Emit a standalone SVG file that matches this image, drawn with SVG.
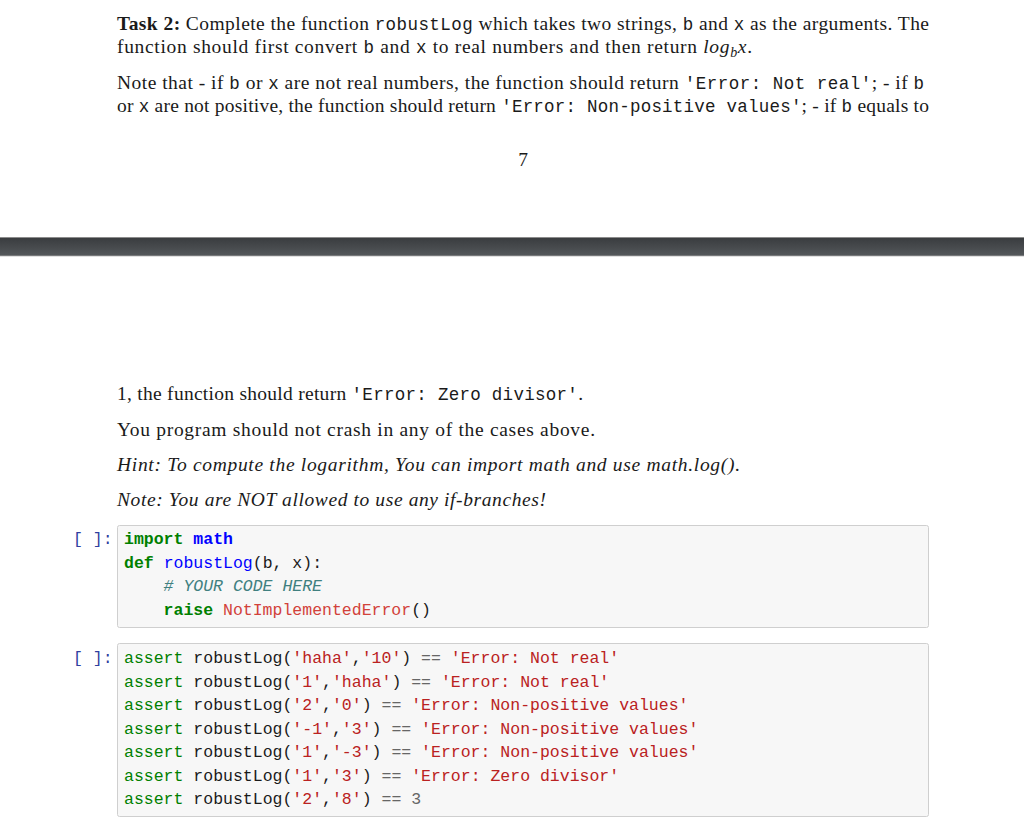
<svg xmlns="http://www.w3.org/2000/svg" width="1024" height="825" viewBox="0 0 1024 825">
<style>
.rm{font-family:"Liberation Serif","Times New Roman",serif;font-size:19.5px;fill:#1a1a1a}
.it{font-style:italic}
.tt{font-family:"Liberation Mono","DejaVu Sans Mono",monospace;font-size:17.5px}
.code{font-family:"Liberation Mono","DejaVu Sans Mono",monospace;font-size:16.5px;fill:#1a1a1a;white-space:pre}
.prompt{font-family:"Liberation Mono","DejaVu Sans Mono",monospace;font-size:16.5px;fill:#303F9F;white-space:pre}
.kw{fill:#008000;font-weight:bold}
.kw2{fill:#008000}
.nm{fill:#0000FF}
.nb{fill:#0000FF;font-weight:bold}
.cm{fill:#408080;font-style:italic}
.ex{fill:#D2413A}
.st{fill:#BA2121}
.op{fill:#666666}
.cell{fill:#f7f7f7;stroke:#cfcfcf;stroke-width:1}
</style>
<defs>
<linearGradient id="bar" x1="0" y1="0" x2="0" y2="1">
<stop offset="0" stop-color="#383b3e"/>
<stop offset="0.5" stop-color="#46494c"/>
<stop offset="1" stop-color="#54585b"/>
</linearGradient>
</defs>
<rect x="0" y="0" width="1024" height="825" fill="#ffffff"/>

<g id="page-top">
<text class="rm" x="117" y="30" textLength="812" lengthAdjust="spacing"><tspan font-weight="bold">Task 2:</tspan> Complete the function <tspan class="tt">robustLog</tspan> which takes two strings, <tspan class="tt">b</tspan> and <tspan class="tt">x</tspan> as the arguments. The</text>
<text class="rm" x="117" y="53" textLength="635" lengthAdjust="spacing">function should first convert <tspan class="tt">b</tspan> and <tspan class="tt">x</tspan> to real numbers and then return <tspan class="it">log</tspan><tspan class="it" font-size="14px" dy="4">b</tspan><tspan class="it" dy="-4">x</tspan>.</text>
<text class="rm" x="117" y="89" textLength="807" lengthAdjust="spacing">Note that - if <tspan class="tt">b</tspan> or <tspan class="tt">x</tspan> are not real numbers, the function should return <tspan class="tt">'Error: Not real'</tspan>; - if <tspan class="tt">b</tspan></text>
<text class="rm" x="117" y="112" textLength="812" lengthAdjust="spacing">or <tspan class="tt">x</tspan> are not positive, the function should return <tspan class="tt">'Error: Non-positive values'</tspan>; - if <tspan class="tt">b</tspan> equals to</text>
<text class="rm" x="523" y="166" text-anchor="middle">7</text>
</g>

<g id="page-break">
<rect x="0" y="237" width="1024" height="19" fill="url(#bar)"/>
<rect x="0" y="237" width="1024" height="1" fill="#8c8c8c"/>
<rect x="0" y="255.5" width="1024" height="0.8" fill="#9a9a9a"/>
</g>

<g id="page-bottom">
<text class="rm" x="117" y="400" textLength="466" lengthAdjust="spacing">1, the function should return <tspan class="tt">'Error: Zero divisor'</tspan>.</text>
<text class="rm" x="117" y="436" textLength="478" lengthAdjust="spacing">You program should not crash in any of the cases above.</text>
<text class="rm it" x="117" y="471" textLength="623" lengthAdjust="spacing">Hint: To compute the logarithm, You can import math and use math.log().</text>
<text class="rm it" x="117" y="506" textLength="429" lengthAdjust="spacing">Note: You are NOT allowed to use any if-branches!</text>
</g>

<g id="cell-1">
<rect class="cell" x="117.5" y="525.5" width="811" height="102" rx="2"/>
<text class="prompt" x="73" y="544">[ ]:</text>
<text class="code" x="124" y="544"><tspan class="kw">import</tspan> <tspan class="nb">math</tspan></text>
<text class="code" x="124" y="567.5"><tspan class="kw">def</tspan> <tspan class="nm">robustLog</tspan>(b, x):</text>
<text class="code" x="163.6" y="591"><tspan class="cm"># YOUR CODE HERE</tspan></text>
<text class="code" x="163.6" y="614.5"><tspan class="kw">raise</tspan> <tspan class="ex">NotImplementedError</tspan>()</text>
</g>

<g id="cell-2">
<rect class="cell" x="117.5" y="643.5" width="811" height="173" rx="2"/>
<text class="prompt" x="73" y="663">[ ]:</text>
<text class="code" x="124" y="663"><tspan class="kw2">assert</tspan> robustLog(<tspan class="st">'haha'</tspan>,<tspan class="st">'10'</tspan>) <tspan class="op">==</tspan> <tspan class="st">'Error: Not real'</tspan></text>
<text class="code" x="124" y="686.5"><tspan class="kw2">assert</tspan> robustLog(<tspan class="st">'1'</tspan>,<tspan class="st">'haha'</tspan>) <tspan class="op">==</tspan> <tspan class="st">'Error: Not real'</tspan></text>
<text class="code" x="124" y="710"><tspan class="kw2">assert</tspan> robustLog(<tspan class="st">'2'</tspan>,<tspan class="st">'0'</tspan>) <tspan class="op">==</tspan> <tspan class="st">'Error: Non-positive values'</tspan></text>
<text class="code" x="124" y="733.5"><tspan class="kw2">assert</tspan> robustLog(<tspan class="st">'-1'</tspan>,<tspan class="st">'3'</tspan>) <tspan class="op">==</tspan> <tspan class="st">'Error: Non-positive values'</tspan></text>
<text class="code" x="124" y="757"><tspan class="kw2">assert</tspan> robustLog(<tspan class="st">'1'</tspan>,<tspan class="st">'-3'</tspan>) <tspan class="op">==</tspan> <tspan class="st">'Error: Non-positive values'</tspan></text>
<text class="code" x="124" y="780.5"><tspan class="kw2">assert</tspan> robustLog(<tspan class="st">'1'</tspan>,<tspan class="st">'3'</tspan>) <tspan class="op">==</tspan> <tspan class="st">'Error: Zero divisor'</tspan></text>
<text class="code" x="124" y="804"><tspan class="kw2">assert</tspan> robustLog(<tspan class="st">'2'</tspan>,<tspan class="st">'8'</tspan>) <tspan class="op">==</tspan> <tspan class="op">3</tspan></text>
</g>
</svg>
